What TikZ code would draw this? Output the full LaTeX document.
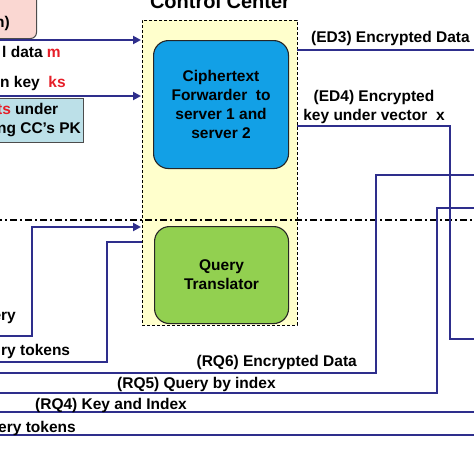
\documentclass[tikz,border=0pt]{standalone}
\usepackage{xcolor}
\usepackage{fontspec}
\setmainfont{Liberation Sans}
\usepackage{tikz}
\usetikzlibrary{arrows.meta, positioning, calc}

\definecolor{flowblue}{RGB}{46,46,140}
\definecolor{ccyellow}{RGB}{255,255,204}
\definecolor{fwdblue}{RGB}{18,160,230}
\definecolor{qtgreen}{RGB}{146,208,80}
\definecolor{ownerpink}{RGB}{250,215,210}
\definecolor{keycyan}{RGB}{188,224,232}
\definecolor{keyred}{RGB}{230,30,40}

\begin{document}
\begin{tikzpicture}[
    x=1pt, y=-1pt,
    txt/.style={inner sep=0pt, font=\fontsize{15.5}{19}\selectfont\bfseries},
    ccbox/.style={rectangle, draw=black, dashed, dash pattern=on 3pt off 2pt, line width=1pt, fill=ccyellow, outer sep=0pt},
    unitbox/.style={rectangle, rounded corners=15pt, draw=black!85, line width=1.1pt, align=center, txt},
    sidebox/.style={rectangle, rounded corners=6pt, draw=black!70, line width=1pt, txt},
    flow/.style={draw=flowblue, line width=2.1pt},
    tip/.style={-{Triangle[length=8pt,width=8pt]}, shorten >=1pt},
    divider/.style={draw=black, line width=1.3pt, dash pattern=on 7pt off 3pt on 2pt off 3pt}
]
\useasboundingbox (0,0) rectangle (474,474);
\clip (0,0) rectangle (474,474);
\fill[white] (0,0) rectangle (474,474);

% Control Center
\node[ccbox, anchor=north west, minimum width=155pt, minimum height=305pt] (cc) at (142,20) {};
\node[txt, font=\fontsize{20}{24}\selectfont\bfseries, anchor=base] (cctitle) at (220,8) {Control Center};

% Layer divider
\coordinate (divl) at (-5,220);
\coordinate (divr) at (480,220);
\draw[divider] (divl) -- (divr);

% Ciphertext Forwarder
\node[unitbox, fill=fwdblue, anchor=north west, minimum width=135pt, minimum height=128pt] (fwd) at (153,40)
    {Ciphertext\\Forwarder~ to\\server 1 and\\server 2};

% Query Translator
\node[unitbox, fill=qtgreen, anchor=north west, minimum width=134pt, minimum height=97pt] (qt) at (154,226)
    {Query\\Translator};

% Owner side (cut off)
\node[sidebox, fill=ownerpink, anchor=north west, minimum width=56pt, minimum height=58pt] (owner) at (-20,-20) {};
\node[txt, anchor=base east] (ownertxt) at (10,27) {n)};
\node[sidebox, rounded corners=0pt, fill=keycyan, anchor=north west, minimum width=89pt, minimum height=44pt, align=left] (ksbox) at (-6,98)
    {{\color{keyred}ts} under\\ng CC's PK};

% Encrypted data into the forwarder
\coordinate (ed1in) at (-5,40);
\coordinate (ed2in) at (-5,96);
\draw[flow, tip] (ed1in) -- (cc.west |- ed1in);
\draw[flow, tip] (ed2in) -- (cc.west |- ed2in);
\node[txt, anchor=base west] (ed1lbl) at (2,57) {l data {\color{keyred}m}};
\node[txt, anchor=base west] (ed2lbl) at (0,87) {n key~~{\color{keyred}ks}};

% Encrypted data out to the servers
\coordinate (ed3out) at (480,50);
\coordinate (ed4out) at (480,339);
\draw[flow] (cc.east |- ed3out) -- (ed3out);
\draw[flow] (cc.east |- 0,126) -- (450,126) -- (450,339) -- (ed4out);
\node[txt, anchor=base west] (ed3lbl) at (311,42) {(ED3) Encrypted Data};
\node[txt, anchor=south, align=center] (ed4lbl) at (374,124) {(ED4) Encrypted\\key under vector~ x};

% Query flow
\coordinate (rq1in) at (-5,336);
\coordinate (rq3out) at (-5,362);
\draw[flow, tip] (rq1in) -- (32,336) -- (32,227) -- (cc.west |- 0,227);
\draw[flow] (cc.west |- 0,242) -- (107,242) -- (107,362) -- (rq3out);
\node[txt, anchor=base east] (rq1lbl) at (16,320) {ery};
\node[txt, anchor=base west] (rq3lbl) at (1,355) {ry tokens};

% Replies from the servers
\coordinate (rq6in) at (480,175);
\coordinate (rq6out) at (-5,373);
\coordinate (rq5in) at (480,208);
\coordinate (rq5out) at (-5,393);
\coordinate (rq4l) at (-5,412);
\coordinate (rq4r) at (480,412);
\coordinate (rq2l) at (-5,435);
\coordinate (rq2r) at (480,435);
\draw[flow] (rq6in) -- (376,175) -- (376,373) -- (rq6out);
\draw[flow] (rq5in) -- (437,208) -- (437,393) -- (rq5out);
\draw[flow] (rq4l) -- (rq4r);
\draw[flow] (rq2l) -- (rq2r);
\node[txt, anchor=base east] (rq6lbl) at (357,366) {(RQ6) Encrypted Data};
\node[txt, anchor=base west] (rq5lbl) at (117,388) {(RQ5) Query by index};
\node[txt, anchor=base west] (rq4lbl) at (35,409) {(RQ4) Key and Index};
\node[txt, anchor=base west] (rq2lbl) at (-2,432) {ery tokens};

\end{tikzpicture}
\end{document}
